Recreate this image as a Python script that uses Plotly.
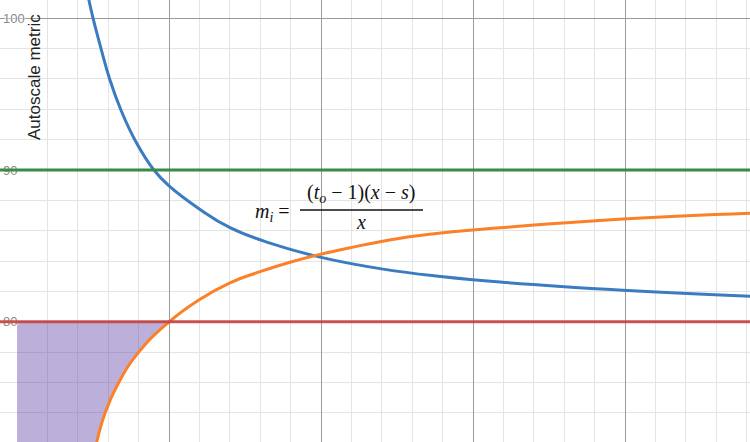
import plotly.graph_objects as go

# curves (x in major-grid units, y = metric)
blue_x = [0.4717, 0.5000, 0.5526, 0.6118, 0.6862, 0.7809, 0.8980, 1.0020, 1.1993,
          1.4013, 1.6645, 1.9934, 2.4079, 2.8026, 3.1776, 3.9868, 4.8224]
blue_y = [101.25, 100.0, 98.0, 95.91, 93.89, 91.88, 90.03, 88.93, 87.43,
          86.20, 85.18, 84.26, 83.47, 82.97, 82.62, 82.08, 81.68]

orange_x = [0.5243, 0.5789, 0.6664, 0.7980, 1.0, 1.2039, 1.4013, 1.5987, 1.7961,
            1.9934, 2.1908, 2.5197, 2.8487, 3.1776, 3.9868, 4.8224]
orange_y = [72.08, 73.97, 75.95, 77.97, 80.0, 81.49, 82.57, 83.30, 83.92,
            84.44, 84.88, 85.51, 85.91, 86.19, 86.77, 87.15]

upper_limit = 90
lower_limit = 80

x_range = [-0.112, 4.822]
y_range = [72.08, 101.2]

BLUE = "#3b7cc0"
ORANGE = "#fa8029"
GREEN = "#388c46"
RED = "#c74440"
PURPLE = "rgba(96,66,166,0.42)"

fig = go.Figure()

# shaded area between y axis and orange curve, below the lower limit
shade_x = [x for x, y in zip(orange_x, orange_y) if y <= lower_limit]
shade_y = [y for y in orange_y if y <= lower_limit]
fig.add_trace(go.Scatter(x=shade_x, y=shade_y, mode="lines",
                         line=dict(width=0, shape="spline", smoothing=1.3),
                         fill="tozerox", fillcolor=PURPLE, hoverinfo="skip"))

fig.add_hline(y=upper_limit, line=dict(color=GREEN, width=3))
fig.add_hline(y=lower_limit, line=dict(color=RED, width=3), opacity=0.9)

fig.add_trace(go.Scatter(x=blue_x, y=blue_y, mode="lines",
                         line=dict(color=BLUE, width=3, shape="spline", smoothing=1.3)))
fig.add_trace(go.Scatter(x=orange_x, y=orange_y, mode="lines",
                         line=dict(color=ORANGE, width=3, shape="spline", smoothing=1.3)))

# formula m_i = (t_o - 1)(x - s) / x
ffont = dict(family="Liberation Serif", size=20, color="#111")
fig.add_annotation(x=272 / 750, y=1 - 212 / 442, xref="paper", yref="paper",
                   xanchor="center", yanchor="middle",
                   text="<i>m</i><sub><i>i</i></sub> =", showarrow=False, font=ffont)
fig.add_annotation(x=361 / 750, y=1 - 193 / 442, xref="paper", yref="paper",
                   xanchor="center", yanchor="middle",
                   text="(<i>t</i><sub><i>o</i></sub> − 1)(<i>x</i> − <i>s</i>)",
                   showarrow=False, font=ffont)
fig.add_annotation(x=361 / 750, y=1 - 222 / 442, xref="paper", yref="paper",
                   xanchor="center", yanchor="middle",
                   text="<i>x</i>", showarrow=False, font=ffont)
fig.add_shape(type="line", xref="paper", yref="paper",
              x0=300 / 750, x1=423 / 750, y0=1 - 210 / 442, y1=1 - 210 / 442,
              line=dict(color="#111", width=1.3))

fig.add_annotation(x=34 / 750, y=1 - 77 / 442, xref="paper", yref="paper",
                   xanchor="center", yanchor="middle",
                   text="Autoscale metric", textangle=-90, showarrow=False,
                   font=dict(family="Liberation Sans", size=17, color="#222"))

fig.update_layout(
    width=750, height=442,
    margin=dict(l=0, r=0, t=0, b=0),
    paper_bgcolor="white", plot_bgcolor="white",
    showlegend=False,
    xaxis=dict(range=x_range, dtick=1, showticklabels=False, ticks="",
               gridcolor="#9a9a9a", gridwidth=1,
               minor=dict(dtick=0.2, gridcolor="#e4e4e4", gridwidth=1),
               zeroline=True, zerolinecolor="#222", zerolinewidth=2,
               showline=False),
    yaxis=dict(range=y_range, dtick=10, ticks="", ticklabelposition="inside",
               tickfont=dict(family="Liberation Sans", size=13, color="#8a8a8a",
                             shadow="0 0 3px white, 0 0 2px white, 0 0 2px white"),
               gridcolor="#9a9a9a", gridwidth=1,
               minor=dict(dtick=2, gridcolor="#e4e4e4", gridwidth=1),
               zeroline=False, showline=False),
)

# page body has a default 8px margin; drop it so the figure fills the window
fig.write_html("out.html", config={"displayModeBar": False},
               post_script="document.body.style.margin='0';")
